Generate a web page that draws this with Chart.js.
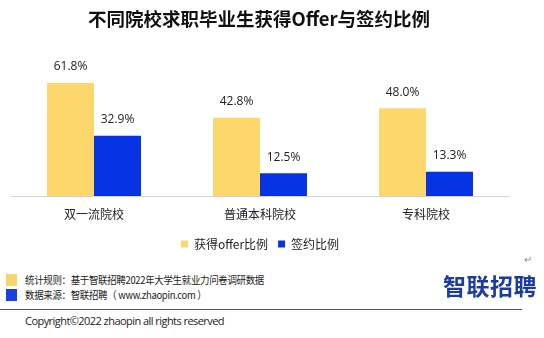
<!DOCTYPE html>
<html><head><meta charset="utf-8">
<script src="https://cdn.jsdelivr.net/npm/chart.js@4"></script>
<style>
html,body{margin:0;padding:0;background:#fff;}
body{width:544px;height:338px;position:relative;overflow:hidden;font-family:"Noto Sans CJK SC","Open Sans",sans-serif;}
#wrap{position:absolute;left:0;top:0;width:544px;height:262px;}
.t{position:absolute;white-space:nowrap;}
#title{left:0;width:518px;text-align:center;top:6px;font-size:18.5px;font-weight:bold;color:#111;line-height:24px;}
.sq{position:absolute;width:11px;height:12px;}
.ft{font-size:10.5px;color:#222;line-height:14px;letter-spacing:-0.35px;transform:scaleX(0.9);transform-origin:0 50%;}
#logo{left:443px;top:270px;font-size:23px;font-weight:bold;color:#1d3c9f;line-height:30px;letter-spacing:0.5px;}
#hr{position:absolute;left:0;top:309px;width:522px;height:0;border-top:1.5px solid #555;}
#copy{left:25px;top:313px;font-family:"Open Sans",sans-serif;font-size:11px;color:#222;line-height:16px;letter-spacing:-0.55px;}
#ret{left:524px;top:251px;font-size:10px;color:#888;}
</style></head>
<body>
<div id="wrap"><canvas id="c" width="544" height="262"></canvas></div>
<div class="t" id="title">不同院校求职毕业生获得Offer与签约比例</div>
<div class="t" id="ret">↵</div>
<div class="sq" style="left:6px;top:274px;background:#f9d36b;"></div>
<div class="sq" style="left:6px;top:289px;background:#1b3fe0;"></div>
<div class="t ft" style="left:25px;top:273px;">统计规则：基于智联招聘2022年大学生就业力问卷调研数据</div>
<div class="t ft" style="left:25px;top:288px;">数据来源：智联招聘（ www.zhaopin.com ）</div>
<div class="t" id="logo">智联招聘</div>
<div id="hr"></div>
<div class="t" id="copy">Copyright©2022 zhaopin all rights reserved</div>
<script>
const categories = ["双一流院校", "普通本科院校", "专科院校"];
const offerRate = [61.8, 42.8, 48.0];
const signRate = [32.9, 12.5, 13.3];
const seriesNames = ["获得offer比例", "签约比例"];

const valueLabels = {
  id: "valueLabels",
  afterDatasetsDraw(chart) {
    const ctx = chart.ctx;
    ctx.save();
    ctx.font = '12px "Open Sans", sans-serif';
    ctx.fillStyle = "#222";
    ctx.textAlign = "center";
    ctx.textBaseline = "middle";
    chart.data.datasets.forEach((ds, i) => {
      chart.getDatasetMeta(i).data.forEach((bar, j) => {
        ctx.fillText(ds.data[j].toFixed(1) + "%", bar.x, bar.y - 16);
      });
    });
    ctx.restore();
  }
};

new Chart(document.getElementById("c"), {
  type: "bar",
  data: {
    labels: categories,
    datasets: [
      {label: seriesNames[0], data: offerRate, backgroundColor: "#fcd76b", borderWidth: 0},
      {label: seriesNames[1], data: signRate, backgroundColor: "#0634e4", borderWidth: 0}
    ]
  },
  options: {
    responsive: false,
    animation: false,
    devicePixelRatio: 1,
    layout: {padding: {top: 68, left: 11, right: 35, bottom: 2}},
    datasets: {bar: {categoryPercentage: 0.566, barPercentage: 1.0}},
    scales: {
      x: {
        grid: {display: false, drawTicks: false},
        border: {display: true, color: "#d4d4d4", width: 1},
        ticks: {padding: 11, color: "#222", font: {size: 12, family: '"Noto Sans CJK SC", sans-serif'}},
        afterFit(scale) { scale.height = 32; }
      },
      y: {display: false, min: 0, max: 70}
    },
    plugins: {
      legend: {
        position: "bottom",
        labels: {boxWidth: 7, boxHeight: 7, padding: 10, color: "#222",
                 font: {size: 12, family: '"Noto Sans CJK SC", sans-serif'}}
      },
      tooltip: {enabled: false}
    }
  },
  plugins: [valueLabels]
});
</script>
</body></html>
